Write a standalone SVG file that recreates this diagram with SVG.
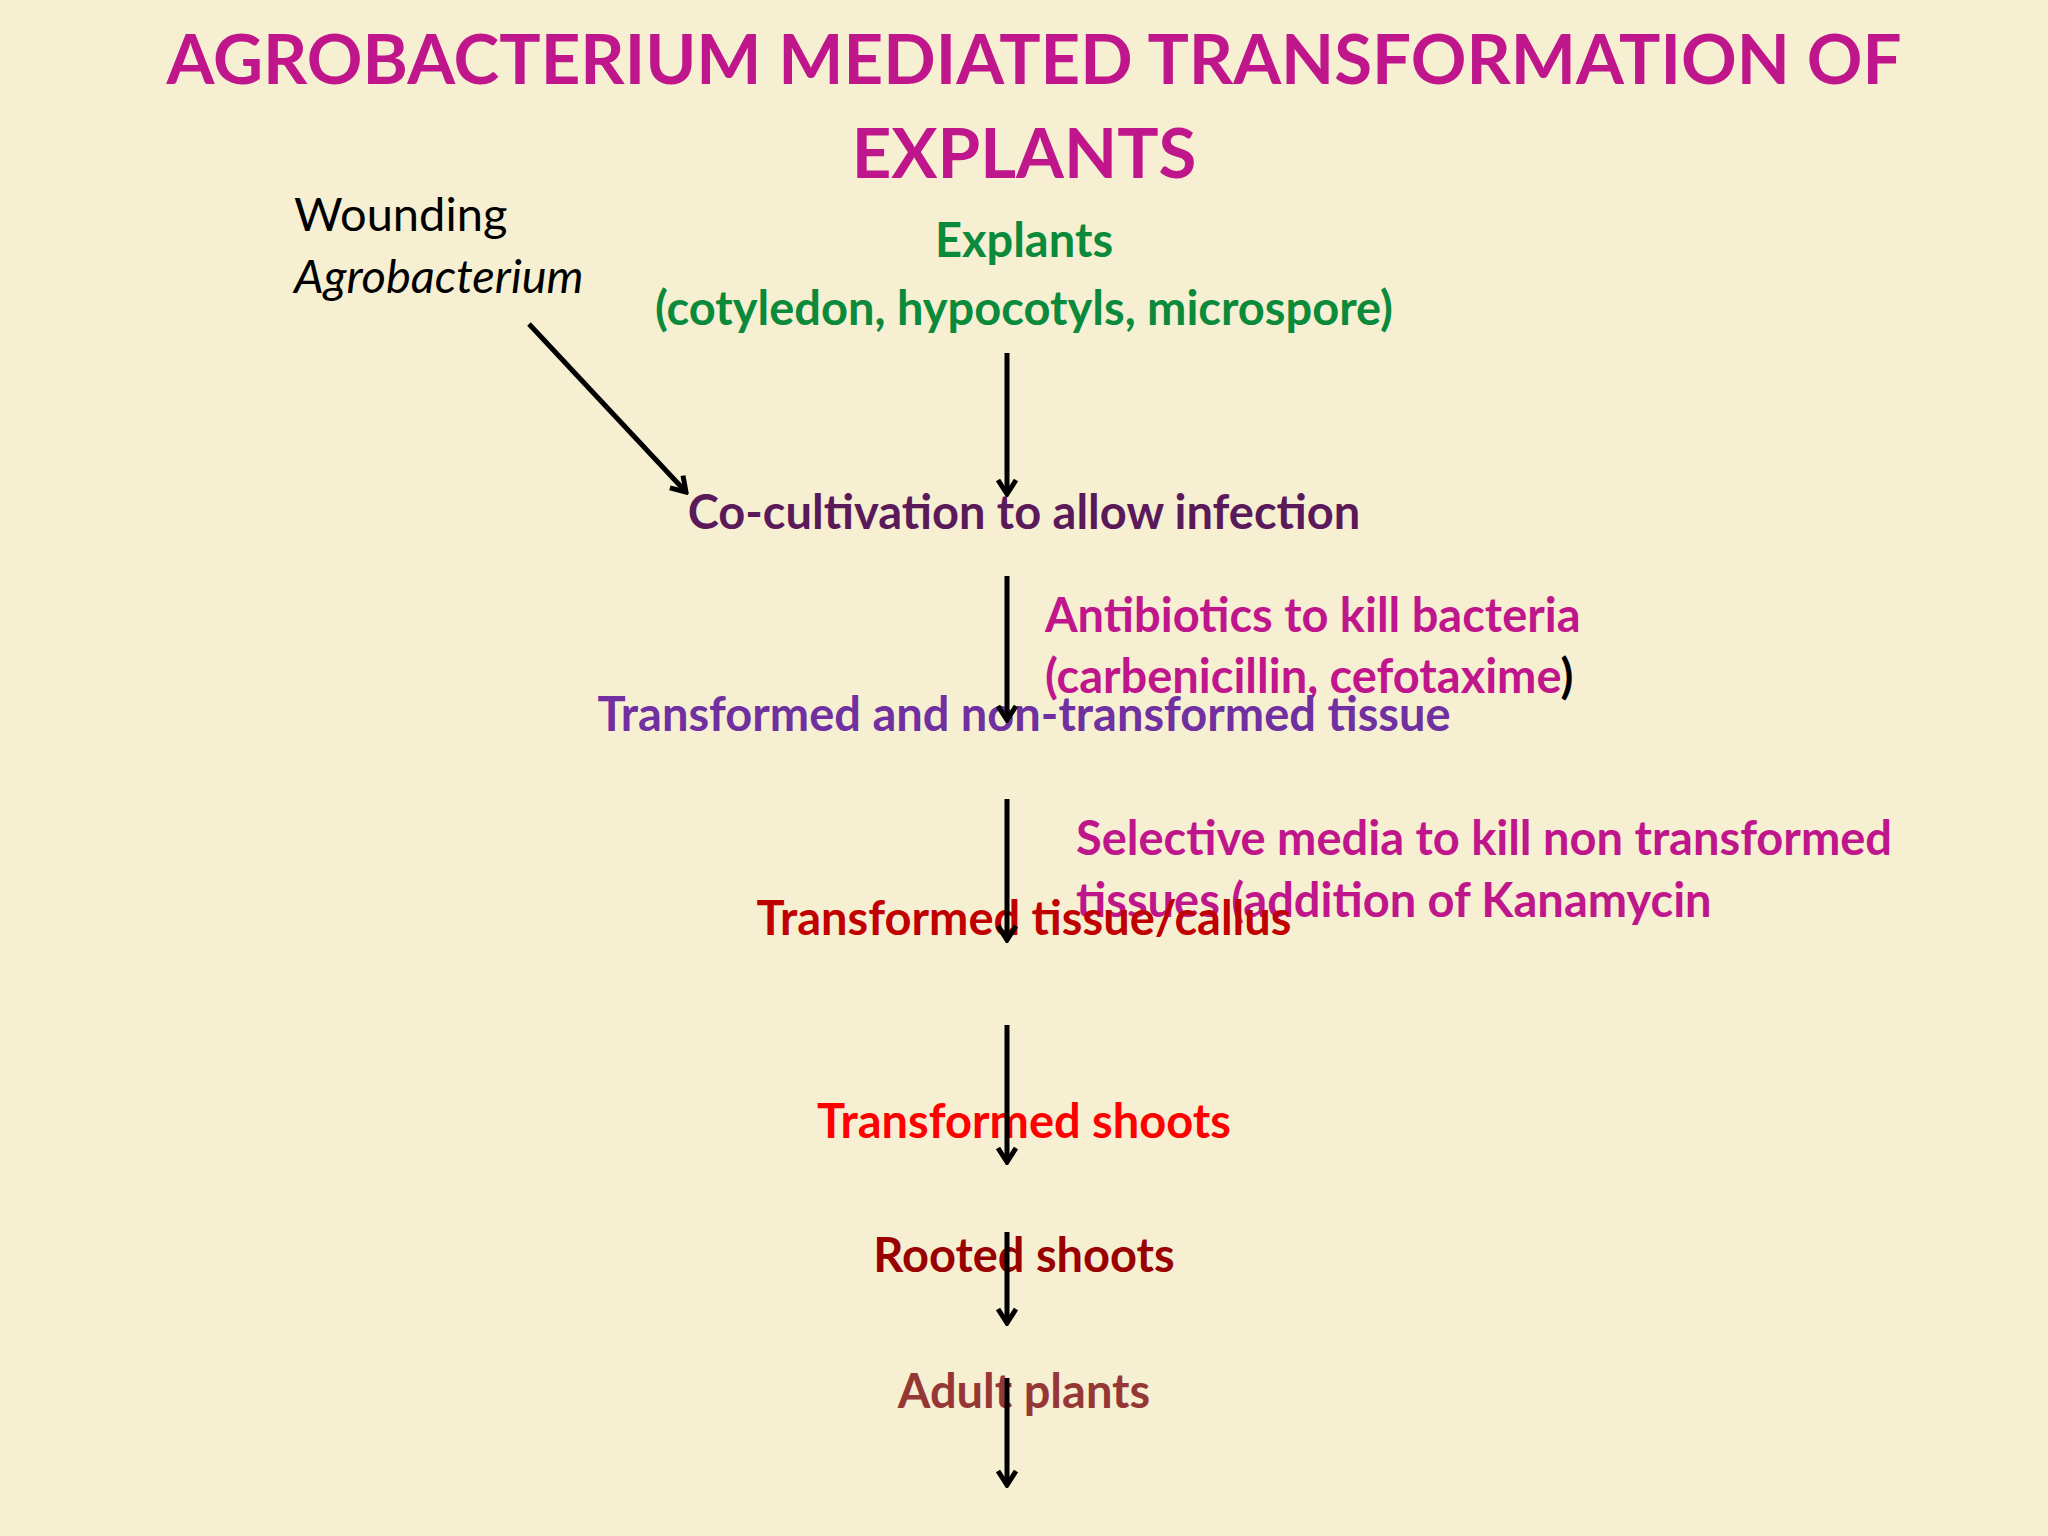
<svg xmlns="http://www.w3.org/2000/svg" width="2048" height="1536" viewBox="0 0 2048 1536">
<style>
text{font-family:Lato,"Open Sans","Liberation Sans",sans-serif;font-weight:bold;font-size:47px}
.t{font-size:69px;fill:#c0168c}
.c{text-anchor:middle}
.n{font-weight:normal;fill:#000}
.l{stroke:#000;stroke-width:5;fill:none}
</style>
<defs>
<marker id="a" viewBox="0 0 24 24" refX="21" refY="12" markerWidth="24" markerHeight="24" markerUnits="userSpaceOnUse" orient="auto">
<polyline points="7,3 21,12 7,21" fill="none" stroke="#000" stroke-width="5"/>
</marker>
</defs>
<rect width="2048" height="1536" fill="#f7efd2"/>
<text class="t c" x="1034" y="84">AGROBACTERIUM MEDIATED  TRANSFORMATION OF</text>
<text class="t c" x="1024" y="178">EXPLANTS</text>
<g id="wound"><text class="n" x="294" y="231">Wounding</text><text class="n" x="294" y="293" font-style="italic">Agrobacterium</text></g>
<g id="explants" fill="#0a8a3a"><text class="c" x="1024" y="257">Explants</text><text class="c" x="1024" y="325">(cotyledon, hypocotyls, microspore)</text></g>
<g id="cocult"><text class="c" x="1024" y="529" fill="#5a1a5a">Co-cultivation to allow infection</text></g>
<g id="antib" fill="#c0168c"><text x="1045" y="632">Antibiotics to kill bacteria</text><text x="1045" y="693">(carbenicillin, cefotaxime<tspan fill="#000">)</tspan></text></g>
<g id="tnt"><text class="c" x="1024" y="731" fill="#7030a0">Transformed and non-transformed tissue</text></g>
<g id="sel" fill="#c0168c"><text x="1076" y="855">Selective media to kill non transformed</text><text x="1076" y="917">tissues (addition of Kanamycin</text></g>
<g id="callus"><text class="c" x="1024" y="935" fill="#c00000">Transformed tissue/callus</text></g>
<g id="shoots"><text class="c" x="1024" y="1138" fill="#ff0000">Transformed shoots</text></g>
<g id="rooted"><text class="c" x="1024" y="1272" fill="#990000">Rooted shoots</text></g>
<g id="adult"><text class="c" x="1024" y="1408" fill="#953735">Adult plants</text></g>
<g id="connectors" class="l" marker-end="url(#a)">
<line x1="1007" y1="353" x2="1007" y2="494"/>
<line x1="529" y1="324" x2="686" y2="492"/>
<line x1="1007" y1="576" x2="1007" y2="720"/>
<line x1="1007" y1="799" x2="1007" y2="940"/>
<line x1="1007" y1="1025" x2="1007" y2="1162"/>
<line x1="1007" y1="1232" x2="1007" y2="1323"/>
<line x1="1007" y1="1378" x2="1007" y2="1485"/>
</g>
</svg>
